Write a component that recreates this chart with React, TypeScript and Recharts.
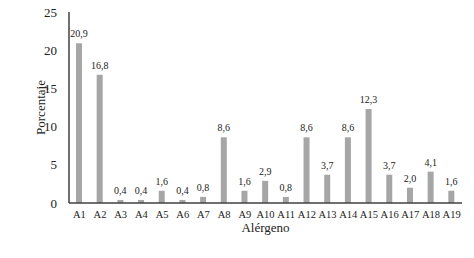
import { BarChart, Bar, XAxis, YAxis, LabelList } from "recharts";

const categories = ["A1", "A2", "A3", "A4", "A5", "A6", "A7", "A8", "A9", "A10", "A11", "A12", "A13", "A14", "A15", "A16", "A17", "A18", "A19"];
const porcentaje = [20.9, 16.8, 0.4, 0.4, 1.6, 0.4, 0.8, 8.6, 1.6, 2.9, 0.8, 8.6, 3.7, 8.6, 12.3, 3.7, 2.0, 4.1, 1.6];
const yTicks = [0, 5, 10, 15, 20, 25];

const data = categories.map((name, i) => ({ name, value: porcentaje[i] }));

const font = "'Liberation Serif', 'Times New Roman', serif";
const fmt = (v: number) => v.toFixed(1).replace(".", ",");

export default function App() {
  return (
    <div style={{ position: "absolute", left: 0, top: 0, width: 474, height: 258, background: "#fff", fontFamily: font }}>
      <BarChart width={474} height={258} data={data} margin={{ top: 12, right: 12, bottom: 0, left: 0 }}>
        <XAxis
          dataKey="name"
          height={55}
          tickLine={false}
          tickMargin={2}
          axisLine={{ stroke: "#404040", strokeWidth: 1.5 }}
          tick={{ fontSize: 10.5, fill: "#222", fontFamily: font }}
          interval={0}
          label={{ value: "Alérgeno", position: "insideTop", offset: 20, fontSize: 13, fill: "#222", fontFamily: font }}
        />
        <YAxis
          width={69}
          domain={[0, 25]}
          ticks={yTicks}
          tickLine={false}
          tickMargin={6}
          axisLine={{ stroke: "#404040", strokeWidth: 1.5 }}
          tick={{ fontSize: 13, fill: "#222", fontFamily: font }}
          label={{ value: "Porcentaje", angle: -90, position: "insideLeft", offset: 40, fontSize: 13, fill: "#222", fontFamily: font, style: { textAnchor: "middle" } }}
        />
        <Bar dataKey="value" fill="#a6a6a6" barSize={6} isAnimationActive={false}>
          <LabelList dataKey="value" position="top" offset={6} formatter={(v: number) => fmt(v)} style={{ fontSize: 10, fill: "#222", fontFamily: font }} />
        </Bar>
      </BarChart>
    </div>
  );
}
